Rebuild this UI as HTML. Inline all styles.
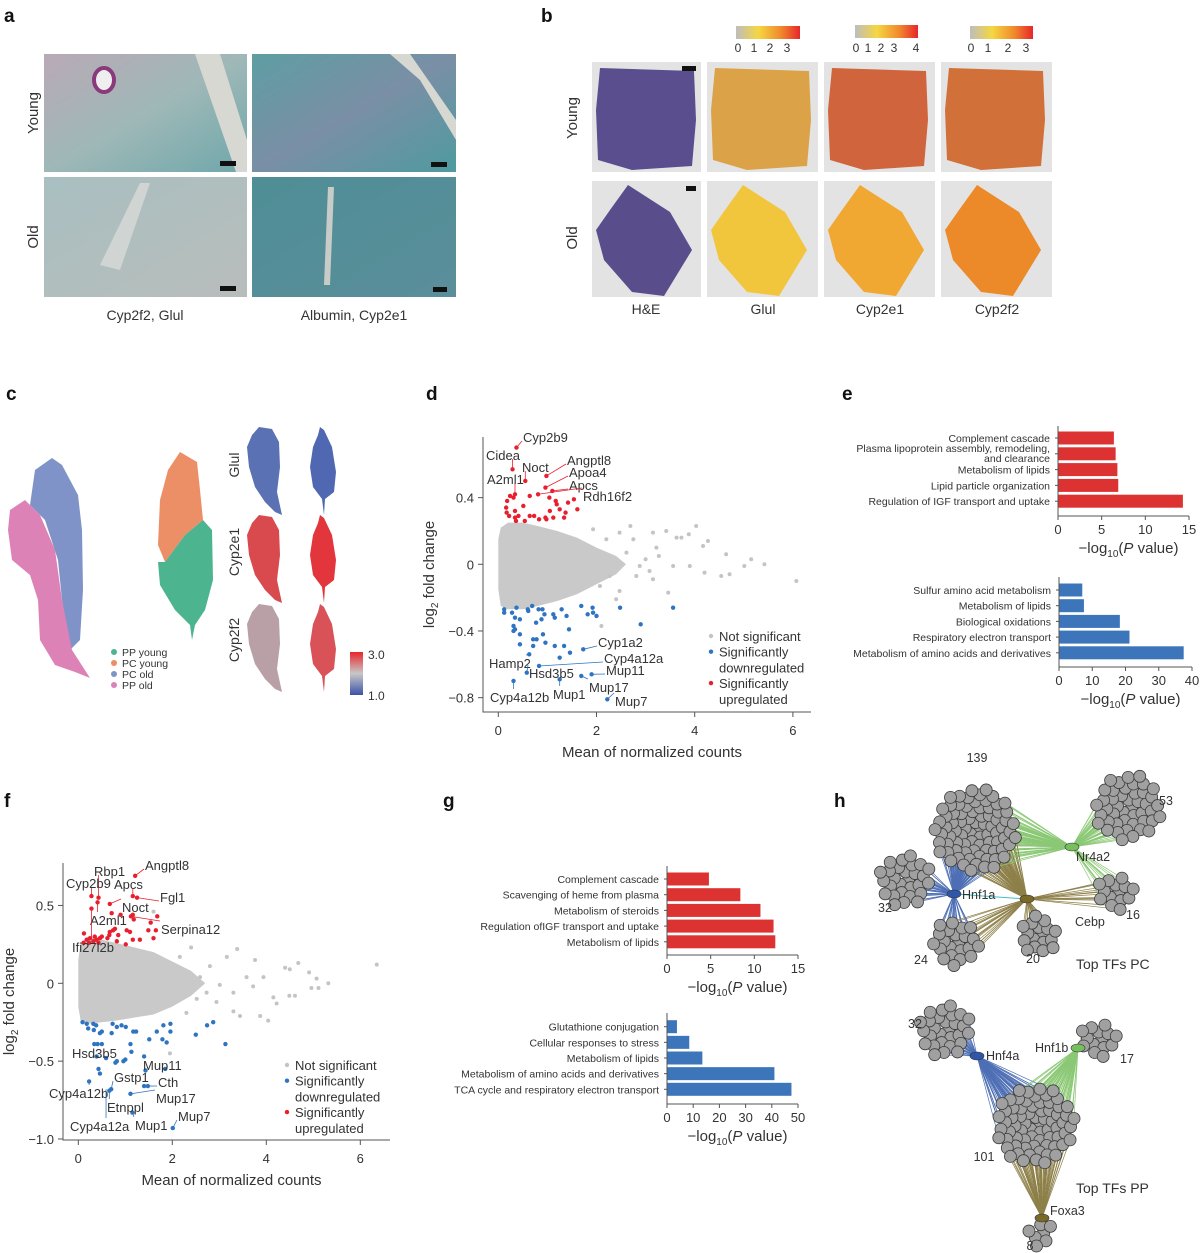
<!DOCTYPE html>
<html><head><meta charset="utf-8">
<style>
html,body{margin:0;padding:0;background:#fff;}
svg{display:block;font-family:"Liberation Sans",Arial,sans-serif;}
.pl{font-weight:bold;font-size:19px;fill:#111;}
.t{fill:#333;}
</style></head>
<body>
<svg id="fig" xmlns="http://www.w3.org/2000/svg" width="1200" height="1253" viewBox="0 0 1200 1253">
<defs>
<linearGradient id="cbar" x1="0" x2="1" y1="0" y2="0"><stop offset="0" stop-color="#bdbdbd"/><stop offset="0.35" stop-color="#f5d742"/><stop offset="0.7" stop-color="#f08a2c"/><stop offset="1" stop-color="#e8262b"/></linearGradient>
<linearGradient id="cbarc" x1="0" x2="0" y1="0" y2="1"><stop offset="0" stop-color="#e8262b"/><stop offset="0.5" stop-color="#c8c8c8"/><stop offset="1" stop-color="#3b52a8"/></linearGradient>
<linearGradient id="ay1" x1="0" x2="1" y1="0" y2="1"><stop offset="0" stop-color="#b9a9b6"/><stop offset="0.5" stop-color="#9fb8b7"/><stop offset="1" stop-color="#6fa7ab"/></linearGradient>
<linearGradient id="ay2" x1="0" x2="1" y1="0" y2="1"><stop offset="0" stop-color="#5e9ea3"/><stop offset="0.5" stop-color="#7a8fa5"/><stop offset="1" stop-color="#4f9aa0"/></linearGradient>
<linearGradient id="ao1" x1="0" x2="1" y1="0" y2="1"><stop offset="0" stop-color="#a9bfc1"/><stop offset="1" stop-color="#b8bdbb"/></linearGradient>
<linearGradient id="ao2" x1="0" x2="1" y1="0" y2="1"><stop offset="0" stop-color="#4f8e96"/><stop offset="1" stop-color="#5a8e9a"/></linearGradient>
</defs>

<!-- Panel a -->
<g>
<text class="pl" x="4" y="22">a</text>
<rect x="44" y="54" width="203" height="118" fill="url(#ay1)"/>
<polygon points="195,54 220,54 247,140 247,172 236,172" fill="#d8d8d2"/>
<ellipse cx="104" cy="80" rx="10" ry="12" fill="#eee" stroke="#8a3a7a" stroke-width="4"/>
<rect x="252" y="54" width="204" height="118" fill="url(#ay2)"/>
<polygon points="390,54 410,54 456,120 456,140 420,80" fill="#d8d8d2"/>
<rect x="44" y="177" width="203" height="120" fill="url(#ao1)"/>
<polygon points="140,183 150,183 120,270 100,265" fill="#d0d4d2"/>
<rect x="252" y="177" width="204" height="120" fill="url(#ao2)"/>
<polygon points="328,187 334,187 330,285 324,285" fill="#c8ccc8"/>
<rect x="220" y="161" width="16" height="5" fill="#111"/><rect x="431" y="162" width="16" height="5" fill="#111"/>
<rect x="220" y="286" width="16" height="5" fill="#111"/><rect x="433" y="287" width="14" height="5" fill="#111"/>
<text class="t" font-size="15" transform="translate(38,113) rotate(-90)" text-anchor="middle">Young</text>
<text class="t" font-size="15" transform="translate(38,237) rotate(-90)" text-anchor="middle">Old</text>
<text class="t" font-size="14" x="145" y="320" text-anchor="middle">Cyp2f2, Glul</text>
<text class="t" font-size="14" x="354" y="320" text-anchor="middle">Albumin, Cyp2e1</text>
</g>

<!-- Panel b -->
<g>
<text class="pl" x="541" y="22">b</text>
<g><rect x="736" y="26" width="64" height="13" fill="url(#cbar)"/>
<text font-size="12" class="t" x="738" y="52" text-anchor="middle">0</text><text font-size="12" class="t" x="754" y="52" text-anchor="middle">1</text><text font-size="12" class="t" x="770" y="52" text-anchor="middle">2</text><text font-size="12" class="t" x="787" y="52" text-anchor="middle">3</text></g>
<g><rect x="855" y="25" width="63" height="13" fill="url(#cbar)"/>
<text font-size="12" class="t" x="856" y="52" text-anchor="middle">0</text><text font-size="12" class="t" x="868" y="52" text-anchor="middle">1</text><text font-size="12" class="t" x="881" y="52" text-anchor="middle">2</text><text font-size="12" class="t" x="894" y="52" text-anchor="middle">3</text><text font-size="12" class="t" x="916" y="52" text-anchor="middle">4</text></g>
<g><rect x="970" y="26" width="63" height="13" fill="url(#cbar)"/>
<text font-size="12" class="t" x="971" y="52" text-anchor="middle">0</text><text font-size="12" class="t" x="988" y="52" text-anchor="middle">1</text><text font-size="12" class="t" x="1008" y="52" text-anchor="middle">2</text><text font-size="12" class="t" x="1026" y="52" text-anchor="middle">3</text></g>
<g id="bimgs"></g>
<text class="t" font-size="15" transform="translate(577,118) rotate(-90)" text-anchor="middle">Young</text>
<text class="t" font-size="15" transform="translate(577,238) rotate(-90)" text-anchor="middle">Old</text>
<text class="t" font-size="14" x="646" y="314" text-anchor="middle">H&amp;E</text>
<text class="t" font-size="14" x="763" y="314" text-anchor="middle">Glul</text>
<text class="t" font-size="14" x="880" y="314" text-anchor="middle">Cyp2e1</text>
<text class="t" font-size="14" x="997" y="314" text-anchor="middle">Cyp2f2</text>
</g>

<!-- Panel c -->
<g>
<text class="pl" x="6" y="400">c</text>
<polygon fill="#7f93c8" points="35,470 52,458 62,465 78,495 82,530 83,590 80,640 70,650 62,600 58,560 45,520 30,505"/>
<polygon fill="#dc82b7" points="10,510 25,500 40,515 55,550 62,600 72,650 90,678 75,672 55,665 40,640 38,600 30,575 12,560 8,530"/>
<polygon fill="#ec8e66" points="180,452 197,462 200,490 203,520 185,535 165,562 158,545 160,500 168,470"/>
<polygon fill="#4cb48f" points="165,562 185,535 203,520 212,530 213,580 205,610 195,625 192,640 190,625 175,610 160,585 158,562"/>
<g font-size="10.5" fill="#333">
<circle cx="114" cy="652" r="3" fill="#4cb48f"/><text x="122" y="656">PP young</text>
<circle cx="114" cy="663" r="3" fill="#ec8e66"/><text x="122" y="667">PC young</text>
<circle cx="114" cy="674" r="3" fill="#7f93c8"/><text x="122" y="678">PC old</text>
<circle cx="114" cy="685" r="3" fill="#dc82b7"/><text x="122" y="689">PP old</text>
</g>
<g id="cfeat"></g>
<text class="t" font-size="14" transform="translate(239,465) rotate(-90)" text-anchor="middle">Glul</text>
<text class="t" font-size="14" transform="translate(239,552) rotate(-90)" text-anchor="middle">Cyp2e1</text>
<text class="t" font-size="14" transform="translate(239,640) rotate(-90)" text-anchor="middle">Cyp2f2</text>
<rect x="350" y="652" width="13" height="43" fill="url(#cbarc)"/>
<text font-size="12" class="t" x="368" y="659">3.0</text>
<text font-size="12" class="t" x="368" y="700">1.0</text>
</g>

<text class="pl" x="426" y="400">d</text>
<text class="pl" x="842" y="400">e</text>
<text class="pl" x="4" y="807">f</text>
<text class="pl" x="443" y="807">g</text>
<text class="pl" x="834" y="807">h</text>
<g id="charts"></g>
</svg>

<script>
// ---------- Panel d data ----------
const dXTicks = [0, 2, 4, 6];
const dYTicks = [0.4, 0, -0.4, -0.8];
const dYTickLabels = ["0.4", "0", "\u22120.4", "\u22120.8"];
const dRedX = [0.37,0.29,0.55,0.98,0.96,1.10,0.81,0.64,0.34,0.24,0.31,0.18,1.04,1.17,1.42,1.54,1.61,1.19,0.51,0.16,0.34,0.17,0.22,0.34,0.41,0.36,0.54,0.64,0.73,0.83,0.96,0.98,1.12,1.25,1.34,1.37,1.05];
const dRedY = [0.70,0.57,0.50,0.53,0.46,0.44,0.42,0.41,0.42,0.41,0.40,0.38,0.40,0.38,0.37,0.39,0.33,0.36,0.35,0.34,0.32,0.31,0.29,0.28,0.29,0.26,0.26,0.29,0.29,0.27,0.28,0.27,0.28,0.33,0.28,0.31,0.32];
const dBlueX = [0.12,0.12,0.28,0.37,0.34,0.44,0.60,0.61,0.69,0.77,0.82,0.90,0.94,0.88,1.12,1.15,1.29,1.39,1.69,1.82,1.93,2.0,1.92,2.48,3.56,2.9,0.31,0.34,0.31,0.44,0.71,0.78,0.91,0.44,0.71,0.96,1.15,1.34,1.44,1.46,1.73,1.25,0.63,0.83,0.58,1.25,1.69,1.90,0.31,2.22];
const dBlueY = [-0.27,-0.29,-0.29,-0.26,-0.32,-0.33,-0.27,-0.28,-0.25,-0.35,-0.27,-0.27,-0.30,-0.33,-0.30,-0.32,-0.27,-0.31,-0.25,-0.30,-0.29,-0.31,-0.26,-0.26,-0.26,-0.36,-0.37,-0.39,-0.40,-0.42,-0.45,-0.45,-0.42,-0.48,-0.49,-0.47,-0.49,-0.49,-0.39,-0.53,-0.51,-0.56,-0.54,-0.61,-0.65,-0.69,-0.67,-0.66,-0.70,-0.81];
const dGrayX = [2.47,2.69,4.03,3.63,3.88,4.27,4.17,3.22,4.64,5.15,5.42,5.01,4.20,4.71,4.54,6.07,3.46,3.15,2.88,3.42,3.56,3.73,2.47,2.81,3.0,3.27,2.27,2.07,2.1,1.93,2.2,2.61,3.08,2.75,3.9,3.15,2.4];
const dGrayY = [0.19,0.23,0.23,0.16,0.18,0.14,0.11,0.10,0.06,0.03,0,-0.01,-0.05,-0.06,-0.07,-0.10,-0.17,-0.09,-0.01,0.20,-0.01,0.16,-0.16,-0.07,0.03,0.05,-0.07,-0.13,-0.37,0.21,0.15,0.07,-0.04,0.15,-0.01,0.19,-0.21];
const dCloudX = [0,0.05,0.2,0.5,0.8,1.2,1.6,2.0,2.4,2.6];
const dCloudUpper = [0.15,0.22,0.25,0.25,0.23,0.2,0.16,0.1,0.05,0.0];
const dCloudLower = [-0.15,-0.25,-0.27,-0.27,-0.25,-0.22,-0.18,-0.12,-0.06,0.0];
const dLabels = ["Cyp2b9","Cidea","Noct","A2ml1","Angptl8","Apoa4","Apcs","Rdh16f2","Cyp1a2","Cyp4a12a","Hamp2","Mup11","Hsd3b5","Mup17","Cyp4a12b","Mup1","Mup7"];
const dLabelPtX = [0.37,0.29,0.55,0.34,0.98,0.96,1.10,0.81,1.73,0.83,0.63,1.90,0.58,1.69,0.31,1.25,2.22];
const dLabelPtY = [0.70,0.57,0.50,0.42,0.53,0.46,0.44,0.42,-0.51,-0.61,-0.54,-0.66,-0.65,-0.67,-0.70,-0.69,-0.81];

// ---------- Panel f data ----------
const fXTicks = [0, 2, 4, 6];
const fYTicks = [0.5, 0, -0.5, -1.0];
const fYTickLabels = ["0.5", "0", "\u22120.5", "\u22121.0"];
const fRedX = [1.21,0.28,0.43,0.41,0.67,1.16,1.25,0.28,0.71,0.90,1.12,1.16,1.18,1.68,1.54,1.49,1.65,0.74,0.78,0.67,0.66,1.03,1.10,0.85,0.12,0.18,0.25,0.35,0.39,0.46,0.32,0.43,0.11,0.62,0.82,1.01,1.16,1.31,1.60,0.23,0.50];
const fRedY = [0.69,0.56,0.55,0.52,0.51,0.56,0.55,0.48,0.45,0.44,0.43,0.44,0.41,0.43,0.39,0.34,0.34,0.34,0.35,0.33,0.31,0.34,0.33,0.31,0.32,0.28,0.29,0.30,0.28,0.29,0.27,0.26,0.26,0.29,0.27,0.25,0.28,0.28,0.29,0.26,0.30];
const fBlueX = [0.09,0.18,0.32,0.38,0.21,0.33,0.46,0.50,0.73,0.71,0.82,0.92,1.01,1.17,1.23,1.67,1.81,1.96,1.96,1.51,1.79,1.88,2.50,2.74,2.87,3.13,0.34,0.41,0.50,1.11,1.13,0.39,0.59,0.79,0.82,0.96,1.0,0.43,0.46,1.40,1.43,1.85,1.40,1.48,0.23,0.70,0.66,1.11,1.15,2.01];
const fBlueY = [-0.25,-0.26,-0.26,-0.27,-0.29,-0.30,-0.32,-0.31,-0.26,-0.32,-0.28,-0.27,-0.28,-0.31,-0.31,-0.31,-0.27,-0.26,-0.31,-0.36,-0.36,-0.38,-0.33,-0.27,-0.25,-0.39,-0.39,-0.39,-0.39,-0.39,-0.44,-0.47,-0.48,-0.51,-0.50,-0.50,-0.49,-0.55,-0.58,-0.47,-0.56,-0.55,-0.66,-0.66,-0.63,-0.68,-0.69,-0.71,-0.83,-0.93];
const fGrayX = [2.4,3.38,3.76,4.4,4.5,4.68,4.91,6.35,5.07,5.32,4.96,5.11,4.49,4.61,4.15,4.22,4.04,3.87,3.44,3.3,2.94,2.73,3.01,2.59,2.8,3.16,3.58,3.94,2.3,1.95,1.6,3.3,3.72,2.16,2.52];
const fGrayY = [0.23,0.22,0.15,0.10,0.09,0.13,0.07,0.12,0.03,0,-0.03,-0.03,-0.08,-0.08,-0.09,-0.13,-0.24,-0.21,-0.21,-0.18,-0.12,-0.06,-0.01,0.04,0.11,0.17,0.04,0.04,-0.19,-0.45,0.46,-0.06,-0.02,0.17,-0.1];
const fCloudX = [0,0.05,0.2,0.5,0.8,1.2,1.6,2.0,2.4,2.7];
const fCloudUpper = [0.15,0.26,0.3,0.28,0.26,0.23,0.2,0.14,0.08,0];
const fCloudLower = [-0.15,-0.24,-0.26,-0.25,-0.24,-0.22,-0.2,-0.15,-0.08,0];
const fLabels = ["Angptl8","Rbp1","Cyp2b9","Apcs","Fgl1","Noct","A2ml1","Serpina12","Ifi27l2b","Hsd3b5","Mup11","Gstp1","Cth","Cyp4a12b","Mup17","Etnppl","Mup7","Cyp4a12a","Mup1"];
const fLabelPtX = [1.21,0.43,0.28,1.16,1.25,0.67,0.41,1.12,0.28,0.5,1.4,0.7,1.48,0.23,1.11,0.66,2.01,0.59,1.15];
const fLabelPtY = [0.69,0.55,0.56,0.56,0.55,0.51,0.52,0.43,0.48,-0.47,-0.56,-0.68,-0.66,-0.63,-0.71,-0.69,-0.93,-0.68,-0.83];

// ---------- Panel e / g data ----------
const eTopCats = ["Complement cascade","Plasma lipoprotein assembly, remodeling,\nand clearance","Metabolism of lipids","Lipid particle organization","Regulation of IGF transport and uptake"];
const eTopVals = [6.4, 6.6, 6.8, 6.9, 14.3];
const eTopTicks = [0, 5, 10, 15];
const eBotCats = ["Sulfur amino acid metabolism","Metabolism of lipids","Biological oxidations","Respiratory electron transport","Metabolism of amino acids and derivatives"];
const eBotVals = [7, 7.5, 18.3, 21.2, 37.5];
const eBotTicks = [0, 10, 20, 30, 40];
const gTopCats = ["Complement cascade","Scavenging of heme from plasma","Metabolism of steroids","Regulation ofIGF transport and uptake","Metabolism of lipids"];
const gTopVals = [4.8, 8.4, 10.7, 12.2, 12.4];
const gTopTicks = [0, 5, 10, 15];
const gBotCats = ["Glutathione conjugation","Cellular responses to stress","Metabolism of lipids","Metabolism of amino acids and derivatives","TCA cycle and respiratory electron transport"];
const gBotVals = [3.8, 8.5, 13.5, 41, 47.5];
const gBotTicks = [0, 10, 20, 30, 40, 50];

// ---------- Panel h data ----------
const hHubNames = ["Hnf1a","Cebp","Nr4a2","Hnf4a","Hnf1b","Foxa3"];
const hHubColors = ["#2f56a8","#7a6a2a","#77bf5e","#2f56a8","#77bf5e","#7a6a2a"];
const hClusterCounts = [139,53,32,24,20,16,32,17,101,8];
const hClusterHubs = [[0,1,2],[2],[0],[0,1],[1],[1,2],[3],[4],[3,4,5],[5]];

const NS = "http://www.w3.org/2000/svg";
const root = document.getElementById("charts");
function mk(tag, attrs, parent) {
  const e = document.createElementNS(NS, tag);
  for (const k in attrs) e.setAttribute(k, attrs[k]);
  (parent || root).appendChild(e);
  return e;
}

// ---------- scatter ----------
function scatter(cfg) {
  const g = mk("g", {});
  
  
  const sx = v => cfg.x0 + v * cfg.xs;
  const sy = v => cfg.y0 - v * cfg.ys;
  // cloud
  let pts = [];
  for (let i = 0; i < cfg.cloudX.length; i++) pts.push(sx(cfg.cloudX[i]) + "," + sy(cfg.cloudU[i]));
  for (let i = cfg.cloudX.length - 1; i >= 0; i--) pts.push(sx(cfg.cloudX[i]) + "," + sy(cfg.cloudL[i]));
  const cloud = mk("polygon", {points: pts.join(" "), fill: "#c9c9c9"}, g);
  
  
  for (let i = 0; i < cfg.grayX.length; i++) {
    const c = mk("circle", {cx: sx(cfg.grayX[i]), cy: sy(cfg.grayY[i]), r: 2, fill: "#c4c4c4"}, g);
    
    
  }
  for (let i = 0; i < cfg.blueX.length; i++) {
    const c = mk("circle", {cx: sx(cfg.blueX[i]), cy: sy(cfg.blueY[i]), r: 2.2, fill: "#2f74c0"}, g);
    
    
  }
  for (let i = 0; i < cfg.redX.length; i++) {
    const c = mk("circle", {cx: sx(cfg.redX[i]), cy: sy(cfg.redY[i]), r: 2.2, fill: "#e8202e"}, g);
    
    
  }
  // axes
  const ax = mk("path", {d: `M${cfg.axL},${cfg.axT} V${cfg.axB} H${cfg.axR}`, stroke: "#555", fill: "none", "stroke-width": 1}, g);
  
  
  cfg.xTicks.forEach(t => {
    mk("line", {x1: sx(t), x2: sx(t), y1: cfg.axB, y2: cfg.axB + 5, stroke: "#555"}, g);
    const tl = mk("text", {x: sx(t), y: cfg.axB + 23, "text-anchor": "middle", "font-size": 13, fill: "#333"}, g);
    tl.textContent = t;
    
    
  });
  cfg.yTicks.forEach((t, i) => {
    mk("line", {x1: cfg.axL - 5, x2: cfg.axL, y1: sy(t), y2: sy(t), stroke: "#555"}, g);
    const tl = mk("text", {x: cfg.axL - 9, y: sy(t) + 5, "text-anchor": "end", "font-size": 13, fill: "#333"}, g);
    tl.textContent = cfg.yTickLabels[i];
    
    
  });
  const xt = mk("text", {x: (cfg.axL + cfg.axR) / 2 + 5, y: cfg.axB + 45, "text-anchor": "middle", "font-size": 15, fill: "#333"}, g);
  xt.textContent = "Mean of normalized counts";
  
  
  const yt = mk("text", {transform: `translate(${cfg.yTitleX},${(cfg.axT + cfg.axB) / 2}) rotate(-90)`, "text-anchor": "middle", "font-size": 15, fill: "#333"}, g);
  yt.innerHTML = 'log<tspan font-size="10" dy="4">2</tspan><tspan dy="-4"> fold change</tspan>';
  
  
  // labels
  for (let i = 0; i < cfg.labels.length; i++) {
    const p = cfg.labelPos[i];
    const px = sx(cfg.lpx[i]), py = sy(cfg.lpy[i]);
    const w = cfg.labels[i].length * 7.2;
    const ex = (px < p[0]) ? p[0] - 1 : (px > p[0] + w ? p[0] + w + 1 : px);
    const ey = p[1] + (py < p[1] ? -8 : 4);
    const ln = mk("line", {x1: px, y1: py, x2: ex, y2: ey, stroke: cfg.lpy[i] > 0 ? "#e8202e" : "#2f74c0", "stroke-width": 0.8}, g);
    
    
    const tx = mk("text", {x: p[0], y: p[1] + 5, "font-size": 13, fill: "#333"}, g);
    tx.textContent = cfg.labels[i];
    
    
  }
  // legend
  const lg = mk("g", {"font-size": 13, fill: "#333"}, g);
  
  
  const L = cfg.leg;
  const rows = [["Not significant", "#c4c4c4"], ["Significantly", "#2f74c0"], ["downregulated", null], ["Significantly", "#e8202e"], ["upregulated", null]];
  rows.forEach((r, i) => {
    const y = L[1] + i * 15.7;
    if (r[1]) {
      const dc = mk("circle", {cx: L[0], cy: y - 1, r: 2.2, fill: r[1]}, lg);
      
      
    }
    const t = mk("text", {x: L[0] + 8, y: y + 4}, lg);
    t.textContent = r[0];
    
    
  });
}

scatter({name: "ma-plot-d", x0: 498.3, xs: 49.1, y0: 564.3, ys: 166.7,
  axL: 483, axR: 811, axT: 437, axB: 712, yTitleX: 434,
  xTicks: dXTicks, yTicks: dYTicks, yTickLabels: dYTickLabels,
  redX: dRedX, redY: dRedY, blueX: dBlueX, blueY: dBlueY, grayX: dGrayX, grayY: dGrayY,
  cloudX: dCloudX, cloudU: dCloudUpper, cloudL: dCloudLower,
  labels: dLabels, lpx: dLabelPtX, lpy: dLabelPtY,
  labelPos: [[523,437],[486,455],[522,467],[487,479],[567,460],[569,472],[569,485],[583,496],[598,642],[604,658],[489,663],[606,670],[529,673],[589,687],[490,697],[553,694],[615,701]],
  leg: [711, 637]});

scatter({name: "ma-plot-f", x0: 78.3, xs: 47, y0: 983.3, ys: 155.7,
  axL: 63, axR: 390, axT: 863, axB: 1140, yTitleX: 14,
  xTicks: fXTicks, yTicks: fYTicks, yTickLabels: fYTickLabels,
  redX: fRedX, redY: fRedY, blueX: fBlueX, blueY: fBlueY, grayX: fGrayX, grayY: fGrayY,
  cloudX: fCloudX, cloudU: fCloudUpper, cloudL: fCloudLower,
  labels: fLabels, lpx: fLabelPtX, lpy: fLabelPtY,
  labelPos: [[145,865],[94,871],[66,883],[114,884],[160,897],[122,907],[90,920],[161,929],[72,947],[72,1053],[143,1065],[114,1077],[158,1082],[49,1093],[156,1098],[107,1107],[178,1116],[70,1126],[135,1125]],
  leg: [287, 1066]});

// ---------- bars ----------
function bars(cfg) {
  const g = mk("g", {});
  
  
  const tmax = cfg.ticks[cfg.ticks.length - 1];
  const sx = v => cfg.x0 + v * (cfg.x1 - cfg.x0) / tmax;
  cfg.vals.forEach((v, i) => {
    const cy = cfg.c0 + i * cfg.step;
    const r = mk("rect", {x: cfg.x0, y: cy - 6.5, width: sx(v) - cfg.x0, height: 13, fill: cfg.color}, g);
    
    
    mk("line", {x1: cfg.x0 - 3, x2: cfg.x0, y1: cy, y2: cy, stroke: "#555"}, g);
    const lines = cfg.cats[i].split("\n");
    lines.forEach((s, j) => {
      const t = mk("text", {x: cfg.x0 - 8, y: cy + 4 + (j - (lines.length - 1) / 2) * 10 - (lines.length > 1 ? 1 : 0), "text-anchor": "end", "font-size": 10.5, fill: "#333"}, g);
      t.textContent = s;
      
      
    });
  });
  const ax = mk("path", {d: `M${cfg.x0},${cfg.top} V${cfg.bot} H${sx(tmax)}`, stroke: "#555", fill: "none"}, g);
  
  
  cfg.ticks.forEach(t => {
    mk("line", {x1: sx(t), x2: sx(t), y1: cfg.bot, y2: cfg.bot + 4, stroke: "#555"}, g);
    const tl = mk("text", {x: sx(t), y: cfg.bot + 18, "text-anchor": "middle", "font-size": 13, fill: "#333"}, g);
    tl.textContent = t;
    
    
  });
  const xt = mk("text", {x: (cfg.x0 + sx(tmax)) / 2 + 5, y: cfg.bot + 37, "text-anchor": "middle", "font-size": 15, fill: "#333"}, g);
  xt.innerHTML = '\u2212log<tspan font-size="10" dy="4">10</tspan><tspan dy="-4">(</tspan><tspan font-style="italic">P</tspan> value)';
  
  
}
bars({name: "enrichment-up-e", cats: eTopCats, vals: eTopVals, ticks: eTopTicks, color: "#dc3232", x0: 1058, x1: 1189, c0: 438, step: 15.8, top: 426, bot: 516});
bars({name: "enrichment-down-e", cats: eBotCats, vals: eBotVals, ticks: eBotTicks, color: "#3d75bb", x0: 1059, x1: 1192, c0: 590, step: 15.7, top: 577, bot: 667});
bars({name: "enrichment-up-g", cats: gTopCats, vals: gTopVals, ticks: gTopTicks, color: "#dc3232", x0: 667, x1: 798, c0: 879, step: 15.7, top: 866, bot: 955});
bars({name: "enrichment-down-g", cats: gBotCats, vals: gBotVals, ticks: gBotTicks, color: "#3d75bb", x0: 667, x1: 798, c0: 1026.7, step: 15.65, top: 1013, bot: 1104});

// ---------- panel b images ----------
(function(){
  const b = document.getElementById("bimgs");
  const cols = [592, 707, 824, 941];
  const widths = [109, 111, 111, 111];
  const youngFill = ["#5b4e8e", "#dca247", "#d0643c", "#d2703a"];
  const oldFill = ["#5a4d8c", "#f2c63c", "#f0a832", "#ec8a2a"];
  cols.forEach((x, i) => {
    const r1 = mk("rect", {x: x, y: 62, width: widths[i], height: 110, fill: "#e3e3e3"}, b);
    
    
    const p1 = mk("polygon", {points: `${x+8},68 ${x+102},71 ${x+104},120 ${x+100},166 ${x+40},170 ${x+6},160 ${x+4},110`, fill: youngFill[i]}, b);
    
    
    const r2 = mk("rect", {x: x, y: 181, width: widths[i], height: 116, fill: "#e3e3e3"}, b);
    
    
    const p2 = mk("polygon", {points: `${x+36},185 ${x+78},212 ${x+100},250 ${x+72},296 ${x+40},292 ${x+12},260 ${x+4},230 ${x+18},210`, fill: oldFill[i]}, b);
    
    
  });
  mk("rect", {x: 682, y: 66, width: 14, height: 5, fill: "#111"}, b);
  mk("rect", {x: 686, y: 186, width: 10, height: 5, fill: "#111"}, b);
})();

// ---------- panel c feature plots ----------
(function(){
  const c = document.getElementById("cfeat");
  const shapeA = [[12,0],[25,2],[32,15],[33,40],[30,65],[35,88],[28,85],[18,75],[8,60],[2,40],[0,20],[5,8]];
  const shapeB = [[10,0],[14,3],[22,20],[26,45],[24,65],[15,72],[14,88],[12,72],[3,60],[0,40],[3,20],[8,8]];
  const rows = [427, 515, 604];
  const fillsA = ["#5a72b4", "#d94a4e", "#b8a0a6"];
  const fillsB = ["#5068b2", "#e2353c", "#d85258"];
  const nm = ["glul", "cyp2e1", "cyp2f2"];
  rows.forEach((y, i) => {
    const pa = mk("polygon", {points: shapeA.map(p => (247 + p[0]) + "," + (y + p[1])).join(" "), fill: fillsA[i]}, c);
    
    
    const pb = mk("polygon", {points: shapeB.map(p => (310 + p[0]) + "," + (y + p[1])).join(" "), fill: fillsB[i]}, c);
    
    
  });
})();

// ---------- panel h networks ----------
(function(){
  const hubPos = [[954,894],[1027,899],[1072,847],[977,1056],[1078,1048],[1042,1218]];
  const clPos = [[975,830,42],[1128,808,34],[905,880,27],[955,943,24],[1038,935,20],[1115,893,19],[945,1030,27],[1098,1040,19],[1035,1125,40],[1040,1233,14]];
  const clNodes = [80,45,28,22,17,14,28,14,70,7];
  const clLabelPos = [[977,762],[1166,805],[885,912],[921,964],[1033,963],[1133,919],[915,1028],[1127,1063],[984,1161],[1030,1250]];
  const g = mk("g", {});
  
  
  const eg = mk("g", {"stroke-width": 0.7, opacity: 0.85}, g);
  const ng = mk("g", {}, g);
  const golden = 2.39996;
  clPos.forEach((cp, k) => {
    const n = clNodes[k];
    for (let i = 0; i < n; i++) {
      const rr = cp[2] * Math.sqrt((i + 0.5) / n);
      const x = cp[0] + rr * Math.cos(i * golden), y = cp[1] + rr * Math.sin(i * golden);
      hClusterHubs[k].forEach(h => {
        mk("line", {x1: hubPos[h][0], y1: hubPos[h][1], x2: x, y2: y, stroke: hHubColors[h]}, eg);
      });
      const nd = mk("circle", {cx: x, cy: y, r: 6, fill: "#a0a0a0", stroke: "#3a3a3a", "stroke-width": 0.8}, ng);
      
      
    }
    const t = mk("text", {x: clLabelPos[k][0], y: clLabelPos[k][1], "text-anchor": "middle", "font-size": 12.5, fill: "#333"}, g);
    t.textContent = hClusterCounts[k];
    
    
  });
  mk("line", {x1: 954, y1: 894, x2: 1027, y2: 899, stroke: "#40c0c8", "stroke-width": 1}, g);
  const hubLabelPos = [[962,899],[1075,926],[1076,861],[986,1060],[1035,1052],[1050,1215]];
  hubPos.forEach((p, h) => {
    const e = mk("ellipse", {cx: p[0], cy: p[1], rx: 7, ry: 4, fill: hHubColors[h], stroke: "#333", "stroke-width": 0.6}, g);
    
    
    const t = mk("text", {x: hubLabelPos[h][0], y: hubLabelPos[h][1], "font-size": 12.5, fill: "#333"}, g);
    t.textContent = hHubNames[h];
    
    
  });
  const t1 = mk("text", {x: 1076, y: 969, "font-size": 14, fill: "#333"}, g);
  t1.textContent = "Top TFs PC";
  
  
  const t2 = mk("text", {x: 1076, y: 1193, "font-size": 14, fill: "#333"}, g);
  t2.textContent = "Top TFs PP";
  
  
})();
</script>
</body></html>
